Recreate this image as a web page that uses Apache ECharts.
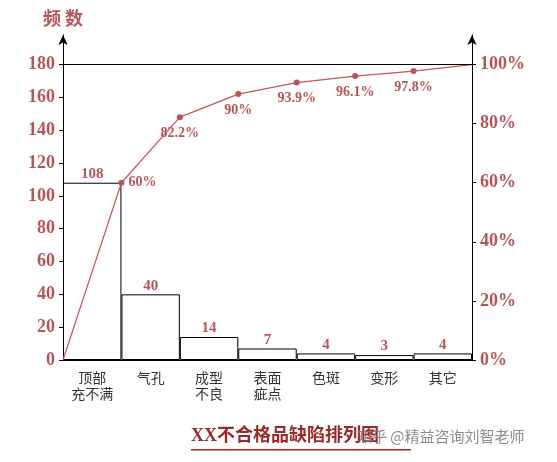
<!DOCTYPE html>
<html>
<head>
<meta charset="utf-8">
<script src="https://cdn.jsdelivr.net/npm/echarts@6/dist/echarts.min.js"></script>
<style>html,body{margin:0;background:#fff}#c{width:557px;height:462px}</style>
</head>
<body>
<div id="c"></div>
<script>
// 缺陷类别与频数
const categories = ['顶部\n充不满', '气孔', '成型\n不良', '表面\n疵点', '色斑', '变形', '其它'];
const counts = [108, 40, 14, 7, 4, 3, 4];
// 累计百分比（起点为0）
const cumPercent = [0, 60, 82.2, 90, 93.9, 96.1, 97.8, 100];

const red = '#b5555a';
const numFont = 'Liberation Serif';

const chart = echarts.init(document.getElementById('c'));
chart.setOption({
  animation: false,
  grid: { left: 63, right: 85, top: 35, bottom: 102 },
  xAxis: [
    {
      type: 'category',
      data: categories,
      axisLine: { lineStyle: { color: '#000' } },
      axisTick: { show: false },
      axisLabel: { color: '#333', fontFamily: 'Noto Sans CJK SC', fontSize: 14, lineHeight: 16, margin: 10 }
    },
    { type: 'value', min: 0, max: 7, show: false }
  ],
  yAxis: [
    {
      type: 'value', min: 0, max: 198, interval: 20,
      name: '频 数', nameGap: 8,
      nameTextStyle: { color: red, fontSize: 18, fontWeight: 'bold', fontFamily: 'Noto Sans CJK SC', align: 'center' },
      axisLine: { show: true, symbol: ['none', 'arrow'], symbolSize: [7, 10], lineStyle: { color: '#000' } },
      axisTick: { show: true, length: 4, lineStyle: { color: '#000' } },
      axisLabel: { color: red, fontFamily: numFont, fontWeight: 'bold', fontSize: 18, showMaxLabel: false, margin: 8 },
      splitLine: { show: false }
    },
    {
      type: 'value', min: 0, max: 110, interval: 20, position: 'right',
      axisLine: { show: true, symbol: ['none', 'arrow'], symbolSize: [7, 10], lineStyle: { color: '#000' } },
      axisTick: { show: true, length: 4, lineStyle: { color: '#000' } },
      axisLabel: { color: red, fontFamily: numFont, fontWeight: 'bold', fontSize: 18, showMaxLabel: false, formatter: '{value}%', margin: 8 },
      splitLine: { show: false }
    }
  ],
  series: [
    {
      type: 'bar',
      data: counts,
      barCategoryGap: 0,
      itemStyle: { color: '#fff', borderColor: '#000', borderWidth: 1 },
      label: { show: true, position: 'top', distance: 1, color: red, fontFamily: numFont, fontWeight: 'bold', fontSize: 15 },
      markLine: {
        silent: true, symbol: 'none', label: { show: false },
        lineStyle: { color: '#000', type: 'solid', width: 1 },
        data: [{ yAxis: 180 }]
      }
    },
    {
      type: 'line',
      xAxisIndex: 1,
      yAxisIndex: 1,
      data: cumPercent.map((v, i) => ({
        value: [i, v],
        symbolSize: (i === 0 || i === 7) ? 0 : 6,
        label: {
          show: i > 0 && i < 7,
          position: i === 1 ? 'right' : 'bottom',
          distance: i === 1 ? 4 : 6
        }
      })),
      symbol: 'circle',
      lineStyle: { color: '#d0505a', width: 1.2 },
      itemStyle: { color: red },
      label: { color: red, fontFamily: numFont, fontWeight: 'bold', fontSize: 14, formatter: p => p.value[1] + '%' }
    }
  ],
  graphic: [
    {
      type: 'text', left: 191, top: 427,
      style: { text: 'XX不合格品缺陷排列图', fill: '#9a2a2a', font: 'bold 18px "Liberation Serif", "Noto Sans CJK SC"' }
    },
    { type: 'rect', left: 191, top: 449, shape: { width: 220, height: 1.5 }, style: { fill: '#9a2a2a' } },
    {
      type: 'text', left: 357, top: 429,
      style: { text: '知乎 @精益咨询刘智老师', fill: 'rgba(120,120,120,0.85)', font: '15px "Noto Sans CJK SC"' }
    }
  ]
});
</script>
</body>
</html>
